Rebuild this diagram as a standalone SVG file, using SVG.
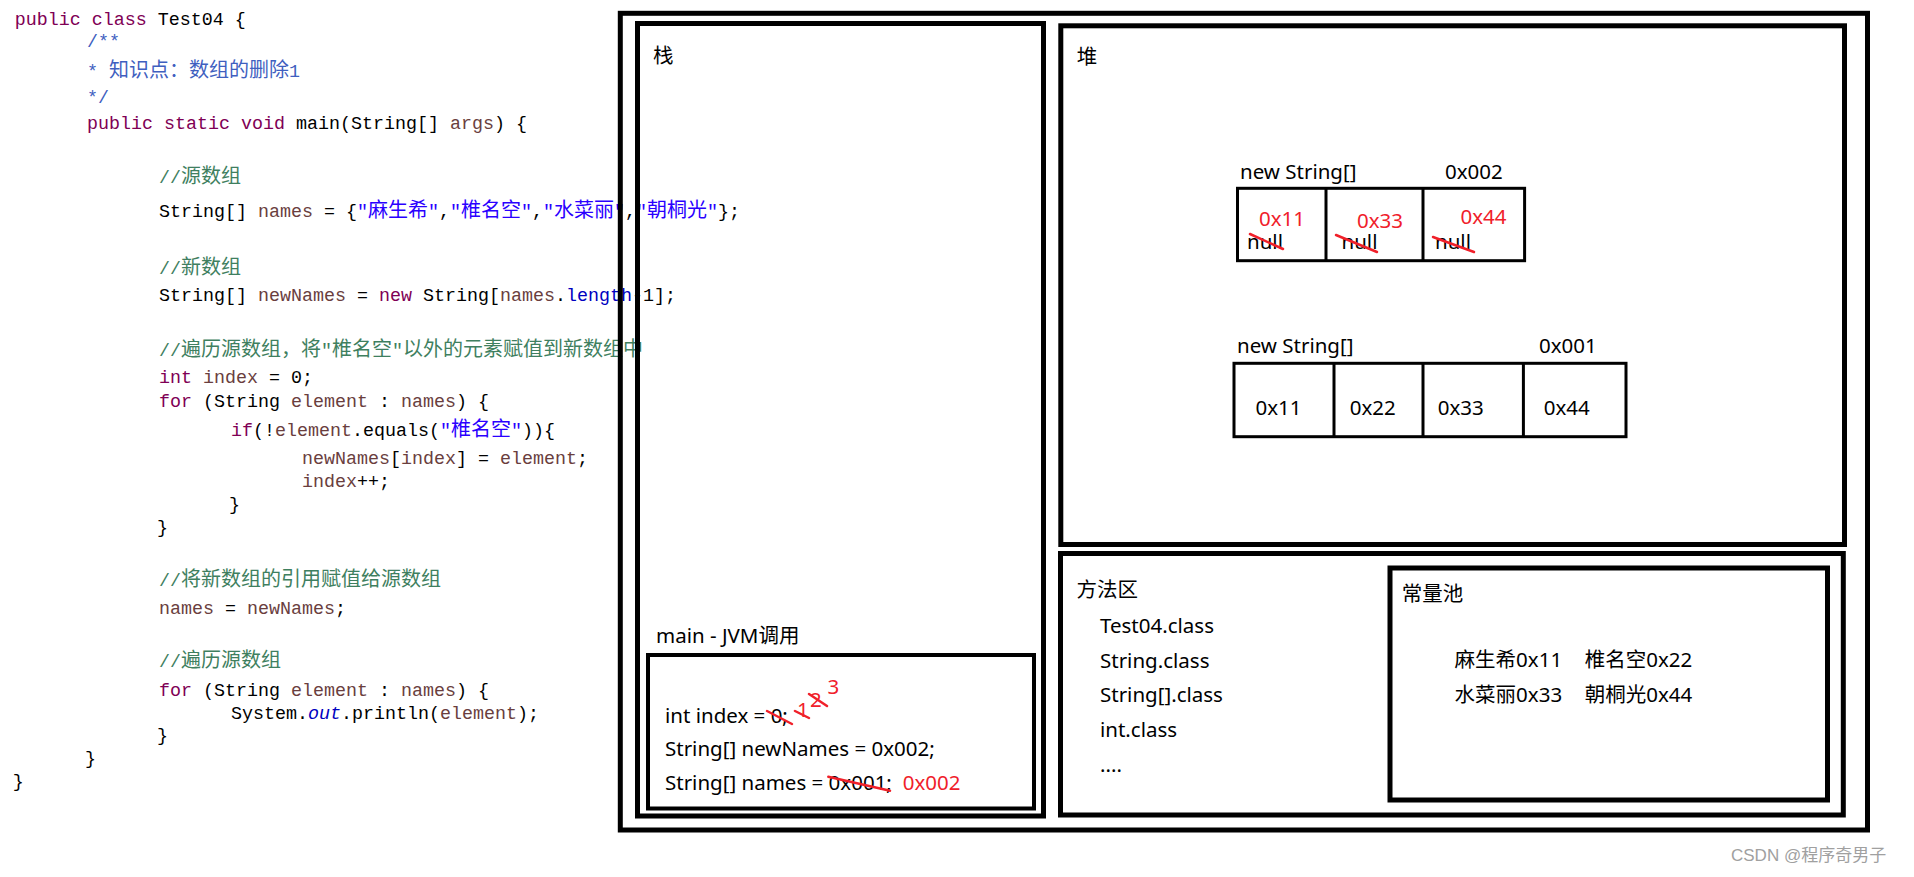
<svg xmlns="http://www.w3.org/2000/svg" width="1914" height="877" viewBox="0 0 1914 877">
<style>
.code{font-family:"Liberation Mono","Noto Sans CJK SC",monospace;font-size:18.33px;fill:#000}
.k{fill:#7F0055}
.v{fill:#6A3E3E}
.s{fill:#2A00FF}
.c{fill:#3F7F5F}
.j{fill:#3F5FBF}
.f{fill:#0000C0}
.it{font-style:italic}
.cj{font-family:"Noto Sans CJK SC",sans-serif;font-size:20px}
.t{font-family:"Noto Sans","Noto Sans CJK SC",sans-serif;font-size:20.5px;fill:#000}
.r{fill:#f0202a}
.box{fill:none;stroke:#000;stroke-width:5}
.frame{fill:none;stroke:#000;stroke-width:4}
.cell{fill:none;stroke:#000;stroke-width:3}
.strike{stroke:#f0202a;stroke-width:2.5;stroke-linecap:round;fill:none}
.wm{font-family:"Liberation Sans","Noto Sans CJK SC",sans-serif;font-size:17px;fill:#a0a0a0}
</style>
<rect width="1914" height="877" fill="#fff"/>
<g id="code" class="code" xml:space="preserve">
<text x="14.7" y="25"><tspan class="k">public class</tspan> Test04 {</text>
<text class="j" x="87" y="47">/**</text>
<text class="j" x="87" y="77"> * <tspan class="cj">知识点：数组的删除</tspan>1</text>
<text class="j" x="87" y="103"> */</text>
<text x="87" y="129"><tspan class="k">public static void</tspan> main(String[] <tspan class="v">args</tspan>) {</text>
<text class="c" x="159" y="183">//<tspan class="cj">源数组</tspan></text>
<text x="159" y="217">String[] <tspan class="v">names</tspan> = {<tspan class="s">"<tspan class="cj">麻生希</tspan>"</tspan>,<tspan class="s">"<tspan class="cj">椎名空</tspan>"</tspan>,<tspan class="s">"<tspan class="cj">水菜丽</tspan>"</tspan>,<tspan class="s">"<tspan class="cj">朝桐光</tspan>"</tspan>};</text>
<text class="c" x="159" y="274">//<tspan class="cj">新数组</tspan></text>
<text x="159" y="301">String[] <tspan class="v">newNames</tspan> = <tspan class="k">new</tspan> String[<tspan class="v">names</tspan>.<tspan class="f">length</tspan>-1];</text>
<text class="c" x="159" y="356">//<tspan class="cj">遍历源数组，将</tspan>"<tspan class="cj">椎名空</tspan>"<tspan class="cj">以外的元素赋值到新数组中</tspan></text>
<text x="159" y="383"><tspan class="k">int</tspan> <tspan class="v">index</tspan> = 0;</text>
<text x="159" y="407"><tspan class="k">for</tspan> (String <tspan class="v">element</tspan> : <tspan class="v">names</tspan>) {</text>
<text x="231" y="436"><tspan class="k">if</tspan>(!<tspan class="v">element</tspan>.equals(<tspan class="s">"<tspan class="cj">椎名空</tspan>"</tspan>)){</text>
<text x="302" y="464"><tspan class="v">newNames</tspan>[<tspan class="v">index</tspan>] = <tspan class="v">element</tspan>;</text>
<text x="302" y="487"><tspan class="v">index</tspan>++;</text>
<text x="229" y="510">}</text>
<text x="157" y="533">}</text>
<text class="c" x="159" y="586">//<tspan class="cj">将新数组的引用赋值给源数组</tspan></text>
<text x="159" y="614"><tspan class="v">names</tspan> = <tspan class="v">newNames</tspan>;</text>
<text class="c" x="159" y="667">//<tspan class="cj">遍历源数组</tspan></text>
<text x="159" y="696"><tspan class="k">for</tspan> (String <tspan class="v">element</tspan> : <tspan class="v">names</tspan>) {</text>
<text x="231" y="719">System.<tspan class="f it">out</tspan>.println(<tspan class="v">element</tspan>);</text>
<text x="157" y="741">}</text>
<text x="85" y="764">}</text>
<text x="12.7" y="787">}</text>
</g>
<g id="jvm-memory">
<rect class="box" x="620.3" y="13.3" width="1247.2" height="816.7"/>
</g>
<g id="stack">
<rect class="box" x="637.5" y="23.5" width="406" height="792.5"/>
<text class="t" x="653" y="63">栈</text>
<text class="t" x="656" y="643">main - JVM调用</text>
</g>
<g id="main-frame">
<rect class="frame" x="648" y="655" width="386" height="153.5"/>
<text class="t" x="665" y="723">int index = 0;</text>
<text class="t" x="665" y="756">String[] newNames = 0x002;</text>
<text class="t" x="665" y="790">String[] names = 0x001;</text>
<text class="t r" x="902.7" y="790">0x002</text>
<text class="t r" x="797" y="717" font-size="18">1</text>
<text class="t r" x="810" y="707" font-size="18">2</text>
<text class="t r" x="827.5" y="694" font-size="18">3</text>
<line class="strike" x1="767" y1="711" x2="792" y2="724"/>
<line class="strike" x1="795" y1="711" x2="809" y2="718"/>
<line class="strike" x1="809" y1="694" x2="827" y2="706"/>
<line class="strike" x1="828.3" y1="776.7" x2="890" y2="790.7"/>
</g>
<g id="heap">
<rect class="box" x="1060.8" y="25.8" width="783.7" height="518.7"/>
<text class="t" x="1076.7" y="64">堆</text>
</g>
<g id="array-0x002">
<text class="t" x="1240" y="179">new String[]</text>
<text class="t" x="1445" y="179">0x002</text>
<rect class="cell" x="1237.5" y="188.3" width="287.1" height="72.4"/>
<line class="cell" x1="1326" y1="188.3" x2="1326" y2="260.7"/>
<line class="cell" x1="1423" y1="188.3" x2="1423" y2="260.7"/>
<text class="t r" x="1259" y="226">0x11</text>
<text class="t r" x="1357" y="228">0x33</text>
<text class="t r" x="1460.5" y="223.5">0x44</text>
<text class="t" x="1247" y="249">null</text>
<text class="t" x="1341.5" y="249">null</text>
<text class="t" x="1435" y="249">null</text>
<line class="strike" x1="1250" y1="234" x2="1283" y2="249"/>
<line class="strike" x1="1336" y1="235" x2="1377" y2="252"/>
<line class="strike" x1="1433" y1="237" x2="1474" y2="252"/>
</g>
<g id="array-0x001">
<text class="t" x="1237" y="353">new String[]</text>
<text class="t" x="1539" y="353">0x001</text>
<rect class="cell" x="1234" y="363.3" width="392" height="73.4"/>
<line class="cell" x1="1334" y1="363.3" x2="1334" y2="436.7"/>
<line class="cell" x1="1423" y1="363.3" x2="1423" y2="436.7"/>
<line class="cell" x1="1523.4" y1="363.3" x2="1523.4" y2="436.7"/>
<text class="t" x="1255.5" y="415">0x11</text>
<text class="t" x="1349.7" y="415">0x22</text>
<text class="t" x="1437.7" y="415">0x33</text>
<text class="t" x="1543.7" y="415">0x44</text>
</g>
<g id="method-area">
<rect class="box" x="1060.5" y="553.5" width="782.8" height="261.5"/>
<text class="t" x="1076.5" y="597">方法区</text>
<text class="t" x="1100" y="632.7">Test04.class</text>
<text class="t" x="1100" y="667.7">String.class</text>
<text class="t" x="1100" y="702.3">String[].class</text>
<text class="t" x="1100" y="737.3">int.class</text>
<text class="t" x="1100" y="772.3">....</text>
</g>
<g id="constant-pool">
<rect class="box" x="1390" y="568" width="437.5" height="232"/>
<text class="t" x="1401.7" y="601">常量池</text>
<text class="t" x="1454.6" y="666.7">麻生希0x11</text>
<text class="t" x="1584.7" y="666.7">椎名空0x22</text>
<text class="t" x="1454.6" y="702.3">水菜丽0x33</text>
<text class="t" x="1584.7" y="702.3">朝桐光0x44</text>
</g>
<g id="connectors"></g>
<text class="wm" x="1731" y="861">CSDN @程序奇男子</text>
</svg>
